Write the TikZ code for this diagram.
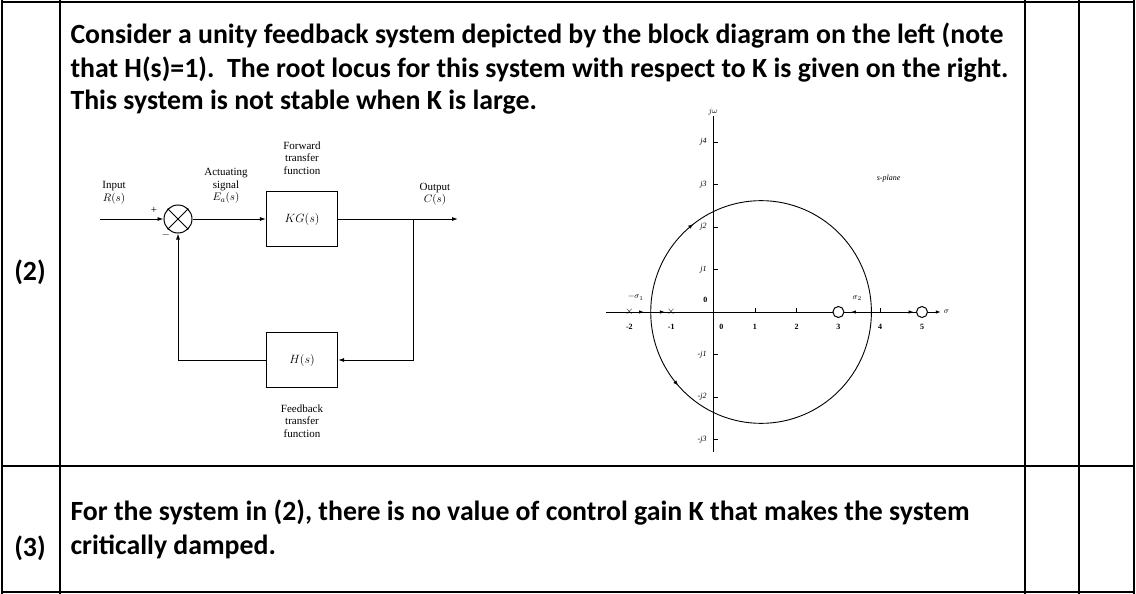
\documentclass[tikz,border=0pt]{standalone}
\usepackage{fontspec}
\setmainfont{Carlito}
\newfontfamily\dgm{Liberation Serif}
\usetikzlibrary{arrows.meta,decorations.markings}
\begin{document}
\begin{tikzpicture}[x=1pt,y=-1pt,
  tab/.style={line width=1.2pt},
  body/.style={anchor=west,font=\fontsize{27.8}{30}\selectfont\bfseries},
  lbl/.style={font=\dgm\fontsize{11}{12.5}\selectfont,align=center,inner sep=0pt},
  sm/.style={font=\dgm\itshape\fontsize{8}{9}\selectfont,inner sep=0pt},
  wire/.style={line width=0.9pt},
  arr/.style={wire,-{Latex[length=6pt,width=4pt]}},
  blk/.style={draw,line width=1.1pt,minimum width=71pt,minimum height=55pt,inner sep=0pt,font=\dgm\itshape\fontsize{12}{13}\selectfont},
  mid/.style={decoration={markings,mark=at position #1 with {\arrow{Latex[length=5pt,width=4pt]}}},postaction=decorate}]
\useasboundingbox (0,0) rectangle (1136,594);
% table
\draw[tab] (2,2) -- (1135,2);
\draw[tab] (2,466) -- (1135,466);
\draw[tab] (2,592) -- (1135,592);
\foreach \x in {2,60,1025,1079,1134} \draw[tab] (\x,0) -- (\x,594);
\node[font=\fontsize{27.8}{30}\selectfont\bfseries] (r2) at (30,272) {(2)};
\node[font=\fontsize{27.8}{30}\selectfont\bfseries] (r3) at (30,548) {(3)};
\node[body] (t1) at (67,36) {Consider a unity feedback system depicted by the block diagram on the left (note};
\node[body] (t2) at (67,70) {that H(s)=1).\ \ The root locus for this system with respect to K is given on the right.};
\node[body] (t3) at (67,102) {This system is not stable when K is large.};
\node[body] (t4) at (67,513) {For the system in (2), there is no value of control gain K that makes the system};
\node[body] (t5) at (67,547) {critically damped.};
% block diagram
\coordinate (in) at (100,219);
\node[draw,circle,line width=1pt,minimum size=28pt,inner sep=0pt] (sum) at (178,219) {};
\draw[line width=1pt] (sum.north west) -- (sum.south east) (sum.north east) -- (sum.south west);
\node[blk] (kg) at (302,219) {$KG(s)$};
\node[blk] (h) at (302,360) {$H(s)$};
\coordinate (out) at (458,219);
\coordinate (br) at (413,219);
\draw[arr] (in) -- (sum);
\draw[arr] (sum) -- (kg);
\draw[arr] (kg) -- (out);
\draw[arr] (br) |- (h);
\draw[arr] (h) -| (sum);
\node[lbl] (linp) at (114,193) {Input\\$R(s)$};
\node[lbl] (lplus) at (154,210) {+};
\node[lbl] (lminus) at (166,235) {$-$};
\node[lbl] (lact) at (226,186) {Actuating\\signal\\$E_a(s)$};
\node[lbl] (lfwd) at (302,158) {Forward\\transfer\\function};
\node[lbl] (lout) at (435,194) {Output\\$C(s)$};
\node[lbl] (lfb) at (302,421) {Feedback\\transfer\\function};
% root locus
\begin{scope}[shift={(713,312)},x=41.8pt,y=42.5pt]
\coordinate (o) at (0,0);
\coordinate (xl) at (-2.55,0);
\coordinate (xr) at (5.45,0);
\coordinate (yb) at (0,-3.3);
\coordinate (yt) at (0,4.6);
\coordinate (bk) at (-1.49,0);
\draw[line width=0.9pt,-{Latex[length=5pt,width=3.5pt]}] (xl) -- (xr);
\draw[line width=0.9pt] (yb) -- (yt);
\node[sm,anchor=west] (sig) at (5.52,0) {$\sigma$};
\node[sm] (jw) at (0,4.72) {$j\omega$};
\foreach \k in {1,2,3,4,5} \draw[line width=0.6pt] (\k,0) -- (\k,0.1);
\foreach \k in {-3,-2,-1,1,2,3,4} \draw[line width=0.6pt] (0,\k) -- (0.12,\k);
\foreach \k/\t in {-2/-2,-1/-1,1/1,2/2,3/3,4/4,5/5} \node[sm,font=\dgm\bfseries\fontsize{8}{9}\selectfont] at (\k,-0.34) {\t};
\node[sm,font=\dgm\bfseries\fontsize{8}{9}\selectfont] (z0) at (0.2,-0.34) {0};
\node[sm,font=\dgm\bfseries\fontsize{8}{9}\selectfont] (z0b) at (-0.18,0.28) {0};
\foreach \k/\t in {-3/-j3,-2/-j2,-1/-j1,1/j1,2/j2,3/j3,4/j4} \node[sm,anchor=east] at (-0.15,\k) {\t};
\node[sm] (s1) at (-1.85,0.35) {$-\sigma_1$};
\node[sm] (s2) at (3.45,0.33) {$\sigma_2$};
\node[sm] (sp) at (4.2,3.13) {s-plane};
\draw[line width=0.9pt,mid=0.29] (bk) arc[start angle=180,end angle=0,x radius=2.64,y radius=2.62];
\draw[line width=0.9pt,mid=0.23] (bk) arc[start angle=180,end angle=360,x radius=2.64,y radius=2.62];
\node[font=\bfseries\fontsize{11}{11}\selectfont,inner sep=0pt] (p1) at (-2,0) {$\times$};
\node[font=\bfseries\fontsize{11}{11}\selectfont,inner sep=0pt] (p2) at (-1,0) {$\times$};
\node[draw,circle,fill=white,line width=1pt,minimum size=11pt,inner sep=0pt] (z1) at (3,0) {};
\node[draw,circle,fill=white,line width=1pt,minimum size=11pt,inner sep=0pt] (z2) at (5,0) {};
\foreach \a/\b in {-1.85/-1.65,-1.35/-1.15,3.65/3.3,4.5/4.8}
  \draw[-{Latex[length=5pt,width=3.5pt]},line width=0.9pt] (\a,0) -- (\b,0);
\end{scope}
\end{tikzpicture}
\end{document}
